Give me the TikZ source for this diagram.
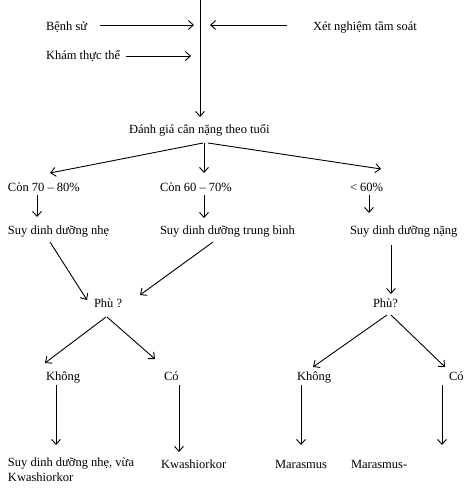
\documentclass[tikz,border=0pt]{standalone}
\usepackage{fontspec}
\setmainfont{Liberation Serif}
\usetikzlibrary{arrows.meta}
\begin{document}
\begin{tikzpicture}[x=1pt,y=-1pt,
  lbl/.style={inner sep=0pt,outer sep=0pt,anchor=base west,font=\fontsize{12.5}{15}\selectfont},
  arr/.style={line width=0.9pt,-{Straight Barb[length=5pt,width=9pt]}}]
\useasboundingbox[fill=white] (0,0) rectangle (474,499);
% nodes
\node[lbl] (bs) at (46,30) {Bệnh sử};
\node[lbl] (xn) at (313,30) {Xét nghiệm tầm soát};
\node[lbl] (kt) at (46,59) {Khám thực thể};
\node[lbl] (dg) at (129,133) {Đánh giá cân nặng theo tuổi};
\node[lbl] (c70) at (8,191) {Còn 70 – 80\%};
\node[lbl] (c60) at (160,191) {Còn 60 – 70\%};
\node[lbl] (c0) at (350,191) {< 60\%};
\node[lbl] (sn) at (8,234) {Suy dinh dưỡng nhẹ};
\node[lbl] (st) at (160,234) {Suy dinh dưỡng trung bình};
\node[lbl] (sg) at (350,234) {Suy dinh dưỡng nặng};
\node[lbl] (p1) at (94,307) {Phù ?};
\node[lbl] (p2) at (373,307) {Phù?};
\node[lbl] (k1) at (46,380) {Không};
\node[lbl] (co1) at (164,380) {Có};
\node[lbl] (k2) at (297,380) {Không};
\node[lbl] (co2) at (449,380) {Có};
\node[lbl,anchor=north west,align=left] (r1) at (8,458) {Suy dinh dưỡng nhẹ, vừa\\Kwashiorkor};
\node[lbl] (r2) at (161,468) {Kwashiorkor};
\node[lbl] (r3) at (275,468) {Marasmus};
\node[lbl] (r4) at (351,468) {Marasmus-};
% coordinates
\coordinate (top) at (200,0);
\coordinate (j1) at (194,25);
\coordinate (j2) at (210,25);
\coordinate (j3) at (191,56);
\coordinate (e4) at (442,445);
% connectors
\draw[arr] (top) -- ([shift={(71,-16)}]dg.base west);
\draw[arr] ([shift={(54,-5)}]bs.base west) -- (j1);
\draw[arr] ([shift={(-26,-5)}]xn.base west) -- (j2);
\draw[arr] ([shift={(80,-3)}]kt.base west) -- (j3);
\draw[arr] ([shift={(74,10)}]dg.base west) -- ([shift={(42,-18)}]c70.base west);
\draw[arr] ([shift={(75,10)}]dg.base west) -- ([shift={(44,-18)}]c60.base west);
\draw[arr] ([shift={(79,10)}]dg.base west) -- ([shift={(31,-22)}]c0.base west);
\draw[arr] ([shift={(29,4)}]c70.base west) -- ([shift={(29,-17)}]sn.base west);
\draw[arr] ([shift={(44,4)}]c60.base west) -- ([shift={(44,-16)}]st.base west);
\draw[arr] ([shift={(19,4)}]c0.base west) -- ([shift={(19,-21)}]sg.base west);
\draw[arr] ([shift={(42,8)}]sn.base west) -- ([shift={(-7,-7)}]p1.base west);
\draw[arr] ([shift={(53,8)}]st.base west) -- ([shift={(46,-12)}]p1.base west);
\draw[arr] ([shift={(41,11)}]sg.base west) -- ([shift={(18,-13)}]p2.base west);
\draw[arr] ([shift={(12,10)}]p1.base west) -- ([shift={(-1,-17)}]k1.base west);
\draw[arr] ([shift={(13,10)}]p1.base west) -- ([shift={(-9,-21)}]co1.base west);
\draw[arr] ([shift={(14,8)}]p2.base west) -- ([shift={(16,-13)}]k2.base west);
\draw[arr] ([shift={(18,8)}]p2.base west) -- ([shift={(-4,-13)}]co2.base west);
\draw[arr] ([shift={(10,5)}]k1.base west) -- ([shift={(48,-13)}]r1.north west);
\draw[arr] ([shift={(15,5)}]co1.base west) -- ([shift={(18,-16)}]r2.base west);
\draw[arr] ([shift={(4,5)}]k2.base west) -- ([shift={(26,-23)}]r3.base west);
\draw[arr] ([shift={(-7,5)}]co2.base west) -- (e4);
\end{tikzpicture}
\end{document}
